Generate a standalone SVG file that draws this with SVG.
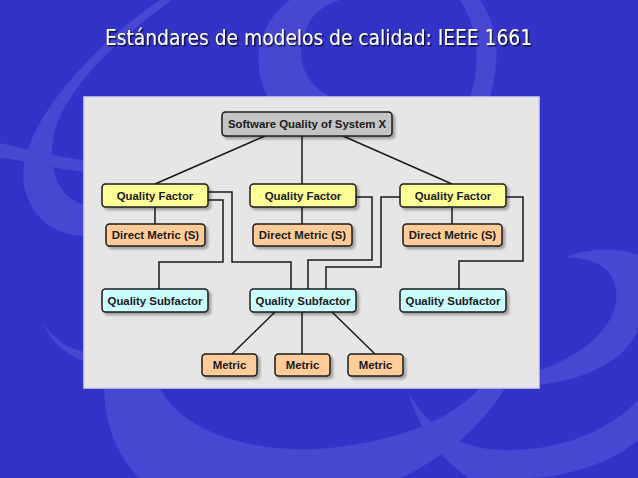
<svg xmlns="http://www.w3.org/2000/svg" width="638" height="478" viewBox="0 0 638 478">
<defs>
<filter id="sh" x="-10%" y="-20%" width="130%" height="160%">
<feDropShadow dx="2.5" dy="2.5" stdDeviation="1.2" flood-color="#000" flood-opacity="0.3"/>
</filter>
<filter id="tsh" x="-5%" y="-20%" width="110%" height="160%">
<feDropShadow dx="1.5" dy="1.5" stdDeviation="0.6" flood-color="#000" flood-opacity="0.7"/>
</filter>
</defs>
<style>
.n rect{stroke:#1a1a1a;stroke-width:1.5;filter:url(#sh)}
.n text{font-family:"Liberation Sans",Arial,sans-serif;font-weight:bold;font-size:11.4px;fill:#1a1a1a;text-anchor:middle}
.top rect{fill:#c4c4c4}
.qf rect{fill:#ffff99}
.dm rect{fill:#ffcc99}
.qs rect{fill:#ccffff}
.sw{fill:#4747d2}
#connectors path{fill:none;stroke:#1a1a1a;stroke-width:1.5}
</style>
<rect width="638" height="478" fill="#3333c8"/>
<g id="swirls">
<path class="sw" d="M160 0 C100 40 10 130 25 190 C35 225 60 235 86 236 L86 205 C60 200 45 170 55 130 C70 80 130 30 172 0 Z"/>
<path class="sw" d="M0 143 C30 150 60 158 86 160 L86 172 C50 168 25 160 0 158 Z"/>
<path class="sw" d="M43 323 C55 340 70 350 86 352 L86 362 C65 355 50 340 43 323 Z"/>
<path class="sw" d="M104 388 C105 430 120 460 140 478 L400 478 C440 460 480 430 505 388 L480 388 C450 420 400 440 330 448 C250 455 180 430 160 388 Z"/>
<path class="sw" d="M408 392 C425 420 450 448 500 450 C560 452 610 430 638 400 L638 440 C610 465 560 478 530 478 L470 478 C440 460 420 430 408 392 Z"/>
<path class="sw" d="M565 257 C600 245 625 250 638 255 L638 330 C625 360 590 378 540 385 L540 370 C585 355 625 320 615 285 C610 265 590 258 565 257 Z"/>
<path class="sw" d="M290 0 C250 30 255 75 268 97 L330 97 C300 80 292 50 312 18 C320 8 330 3 340 0 Z"/>
<path class="sw" d="M460 0 C480 30 480 70 470 97 L490 97 C500 60 500 30 480 0 Z"/>
</g>
<text x="105" y="45" textLength="427" lengthAdjust="spacingAndGlyphs" font-family="'DejaVu Sans',Tahoma,sans-serif" font-size="21" fill="#ffffff" filter="url(#tsh)">Estándares de modelos de calidad: IEEE 1661</text>
<rect x="84" y="97" width="455" height="291" fill="#e6e6e6" stroke="#d4d4ee" stroke-width="1.5"/>
<g id="connectors">
<path d="M265 136 L155 184"/>
<path d="M302 136 L302 184"/>
<path d="M343 136 L452 184"/>
<path d="M155 207 L155 224"/>
<path d="M302 207 L302 224"/>
<path d="M452 207 L452 224"/>
<path d="M208 192 L232 192 L232 262 L291 262 L291 289"/>
<path d="M208 200 L223 200 L223 262 L159 262 L159 289"/>
<path d="M356 197 L372 197 L372 260 L308 260 L308 289"/>
<path d="M400 197 L381 197 L381 267 L326 267 L326 289"/>
<path d="M506 197 L523 197 L523 261 L459 261 L459 289"/>
<path d="M275 312 L232 354"/>
<path d="M302 312 L302 354"/>
<path d="M332 312 L375 354"/>
</g>
<g id="n-top" class="n top"><rect x="222" y="112" width="170" height="24" rx="3.5"/><text x="307" y="128">Software Quality of System X</text></g>
<g id="n-qf1" class="n qf"><rect x="102" y="184" width="106" height="23" rx="3.5"/><text x="155" y="199.5">Quality Factor</text></g>
<g id="n-qf2" class="n qf"><rect x="250" y="184" width="106" height="23" rx="3.5"/><text x="303" y="199.5">Quality Factor</text></g>
<g id="n-qf3" class="n qf"><rect x="400" y="184" width="106" height="23" rx="3.5"/><text x="453" y="199.5">Quality Factor</text></g>
<g id="n-dm1" class="n dm"><rect x="106" y="224" width="99" height="22" rx="3.5"/><text x="155.5" y="239">Direct Metric (S)</text></g>
<g id="n-dm2" class="n dm"><rect x="253" y="224" width="99" height="22" rx="3.5"/><text x="302.5" y="239">Direct Metric (S)</text></g>
<g id="n-dm3" class="n dm"><rect x="403" y="224" width="99" height="22" rx="3.5"/><text x="452.5" y="239">Direct Metric (S)</text></g>
<g id="n-qs1" class="n qs"><rect x="102" y="289" width="106" height="23" rx="3.5"/><text x="155" y="304.5">Quality Subfactor</text></g>
<g id="n-qs2" class="n qs"><rect x="250" y="289" width="106" height="23" rx="3.5"/><text x="303" y="304.5">Quality Subfactor</text></g>
<g id="n-qs3" class="n qs"><rect x="400" y="289" width="106" height="23" rx="3.5"/><text x="453" y="304.5">Quality Subfactor</text></g>
<g id="n-m1" class="n dm"><rect x="202" y="354" width="55" height="22" rx="3.5"/><text x="229.5" y="369">Metric</text></g>
<g id="n-m2" class="n dm"><rect x="275" y="354" width="55" height="22" rx="3.5"/><text x="302.5" y="369">Metric</text></g>
<g id="n-m3" class="n dm"><rect x="348" y="354" width="55" height="22" rx="3.5"/><text x="375.5" y="369">Metric</text></g>
</svg>
